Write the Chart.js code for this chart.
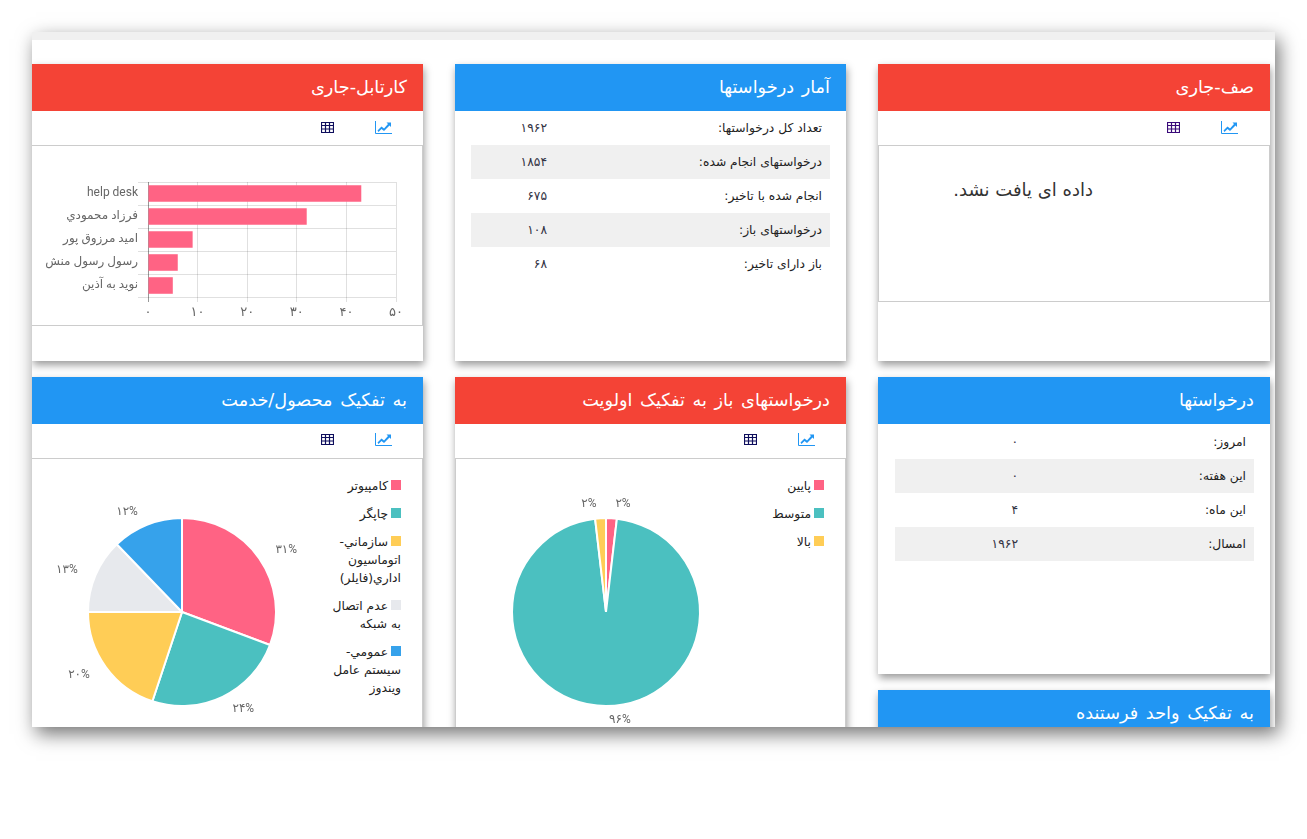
<!DOCTYPE html>
<html lang="fa">
<head>
<meta charset="utf-8">
<title>داشبورد</title>
<script src="https://cdn.jsdelivr.net/npm/chart.js@4"></script>
<style>
  html, body { margin: 0; padding: 0; background: #fff; width: 1307px; height: 839px; overflow: hidden; }
  body { font-family: 'DejaVu Sans', sans-serif; color: #333; }
  #board {
    position: absolute; left: 32px; top: 32px; width: 1243px; height: 695px;
    background: #fff; overflow: hidden; box-shadow: 4px 7px 18px rgba(0,0,0,.55);
  }
  #strip { position: absolute; left: 0; top: 0; width: 100%; height: 8px; background: #f0f0f0; }
  .card {
    position: absolute; width: 391px; background: #fff;
    box-shadow: 1px 4px 8px rgba(0,0,0,.4);
  }
  .head {
    height: 47px; line-height: 47px; color: #fff; direction: rtl;
    font-size: 17.7px; word-spacing: 2px; padding-right: 16px; white-space: nowrap;
  }
  .red { background: #f44336; }
  .blue { background: #2196f3; }
  .icons { position: relative; height: 34px; }
  .icons svg { position: absolute; }
  .box {
    position: absolute; left: 0; right: 0; box-sizing: border-box;
    border: 1px solid #ccc; background: #fff;
  }
  .noleft { border-left: 0; }
  .row { position: absolute; height: 34px; line-height: 35px; font-size: 12.3px; }
  .row.alt { background: #f0f0f0; }
  .row .lbl { position: absolute; right: 8px; direction: rtl; white-space: nowrap; color: #222; }
  .row .val { position: absolute; white-space: nowrap; color: #334; }
  canvas { position: absolute; }
  .legend { position: absolute; direction: rtl; font-size: 12.3px; line-height: 18px; color: #222; margin: 0; padding: 0; list-style: none; text-align: right; }
  .legend li { margin-bottom: 10px; }
  .legend i { display: inline-block; width: 10px; height: 10px; margin-left: 3px; }
  #nodata { position: absolute; left: 60px; top: 33px; width: 154px; text-align: right; direction: rtl; font-size: 18px; color: #333; white-space: nowrap; }
</style>
</head>
<body>
<div id="board"><div id="strip"></div></div>
<script>
  // ── Data ────────────────────────────────────────────────
  var barLabels  = ['help desk', 'فرزاد محمودي', 'امید مرزوق پور', 'رسول رسول منش', 'نوید به آذین'];
  var barValues  = [43, 32, 9, 6, 5];
  var barTicks   = ['۰', '۱۰', '۲۰', '۳۰', '۴۰', '۵۰'];

  var serviceLabels = ['کامپیوتر', 'چاپگر', 'سازماني-اتوماسیون اداري(فایلر)', 'عدم اتصال به شبکه', 'عمومي-سیستم عامل ویندوز'];
  var serviceValues = [30.7, 24.4, 19.9, 12.8, 12.2];
  var servicePct    = ['۳۱%', '۲۴%', '۲۰%', '۱۳%', '۱۲%'];
  var serviceColors = ['#ff6384', '#4bc0c0', '#ffcd56', '#e7e9ed', '#36a2eb'];

  var priorityLabels = ['پایین', 'متوسط', 'بالا'];
  var priorityValues = [2, 104, 2];
  var priorityPct    = ['۲%', '۹۶%', '۲%'];
  var priorityColors = ['#ff6384', '#4bc0c0', '#ffcd56'];

  var statLabels   = ['تعداد کل درخواستها:', 'درخواستهای انجام شده:', 'انجام شده با تاخیر:', 'درخواستهای باز:', 'باز دارای تاخیر:'];
  var statValues   = ['۱۹۶۲', '۱۸۵۴', '۶۷۵', '۱۰۸', '۶۸'];
  var periodLabels = ['امروز:', 'این هفته:', 'این ماه:', 'امسال:'];
  var periodValues = ['۰', '۰', '۴', '۱۹۶۲'];

  var FONT = "Roboto, 'DejaVu Sans', sans-serif";
  var board = document.getElementById('board');

  function iconLine(x, y) {
    return '<svg style="left:' + x + 'px;top:' + y + 'px" width="17" height="13" viewBox="0 0 17 13">' +
      '<path d="M0.5 0V12.5H17" fill="none" stroke="#2196f3"/>' +
      '<path d="M2.5 9.5L6.5 5.5L9 7.5L13 3L11.5 1.5H16V6L14.5 4.5L9 10L6.5 8L3.5 11Z" fill="#2196f3"/></svg>';
  }
  function iconTable(x, y, col) {
    return '<svg style="left:' + x + 'px;top:' + y + 'px" width="13" height="11" viewBox="0 0 13 11">' +
      '<path d="M0.5 0.5H12.5V10.5H0.5ZM0.5 3.5H12.5M0.5 7H12.5M4.5 0.5V10.5M8.5 0.5V10.5" fill="none" stroke-width="1.2" stroke="' + col + '"/></svg>';
  }

  // x and y are page coordinates
  function addCard(x, y, w, h, color, title, iconTop, iconCol) {
    var c = document.createElement('div');
    c.className = 'card';
    c.style.left = (x - 32) + 'px';
    c.style.top = (y - 32) + 'px';
    c.style.width = w + 'px';
    c.style.height = h + 'px';
    var html = '<div class="head ' + color + '">' + title + '</div>';
    if (iconTop) {
      html += '<div class="icons">' + iconTable(289, iconTop, iconCol || '#0d0d5c') + iconLine(343, iconTop - 1) + '</div>';
    }
    c.innerHTML = html;
    board.appendChild(c);
    return c;
  }

  function addBox(card, top, height, noleft) {
    var b = document.createElement('div');
    b.className = 'box' + (noleft ? ' noleft' : '');
    b.style.top = top + 'px';
    b.style.height = height + 'px';
    card.appendChild(b);
    return b;
  }

  function addRows(card, labels, values, left, top, valRight) {
    labels.forEach(function (lab, i) {
      var r = document.createElement('div');
      r.className = 'row' + (i % 2 ? ' alt' : '');
      r.style.left = left + 'px';
      r.style.width = '359px';
      r.style.top = (top + i * 34) + 'px';
      r.innerHTML = '<span class="lbl">' + lab + '</span><span class="val" style="right:' + valRight + 'px">' + values[i] + '</span>';
      card.appendChild(r);
    });
  }

  function addLegend(card, labels, colors, right, width) {
    var ul = document.createElement('ul');
    ul.className = 'legend';
    ul.style.top = '100px';
    ul.style.right = right + 'px';
    ul.style.width = width + 'px';
    labels.forEach(function (lab, i) {
      var li = document.createElement('li');
      li.innerHTML = '<i style="background:' + colors[i] + '"></i>' + lab;
      ul.appendChild(li);
    });
    card.appendChild(ul);
  }

  function addCanvas(parent, left, top, w, h) {
    var cv = document.createElement('canvas');
    cv.style.left = left + 'px';
    cv.style.top = top + 'px';
    cv.style.width = w + 'px';
    cv.style.height = h + 'px';
    cv.width = w;
    cv.height = h;
    parent.appendChild(cv);
    return cv;
  }

  // percent text outside each slice, anchored from the arc's own geometry
  var pctPlugin = {
    id: 'pct',
    afterDatasetsDraw: function (chart, args, opts) {
      var ctx = chart.ctx;
      ctx.save();
      ctx.font = "12px " + FONT;
      ctx.fillStyle = '#666';
      ctx.textBaseline = 'middle';
      chart.getDatasetMeta(0).data.forEach(function (arc, i) {
        var mid = (arc.startAngle + arc.endAngle) / 2;
        var cos = Math.cos(mid), sin = Math.sin(mid);
        var right = cos > -1e-6;
        ctx.textAlign = right ? 'left' : 'right';
        ctx.fillText(opts.labels[i], arc.x + cos * (arc.outerRadius + 16) + (right ? 3 : -3), arc.y + sin * (arc.outerRadius + 14));
      });
      ctx.restore();
    }
  };

  function drawPie(cv, values, colors, pct) {
    new Chart(cv, {
      type: 'pie',
      data: { datasets: [{ data: values, backgroundColor: colors, borderColor: '#fff', borderWidth: 2 }] },
      options: {
        responsive: false,
        animation: false,
        layout: { padding: { top: 57, bottom: 57 } },
        plugins: { legend: { display: false }, tooltip: { enabled: false }, pct: { labels: pct } }
      },
      plugins: [pctPlugin]
    });
  }

  // ── Cards ───────────────────────────────────────────────
  var queue = addCard(878, 64, 392, 297, 'red', 'صف-جاری', 11, '#3a0a7a');
  addBox(queue, 81, 157).innerHTML = '<div id="nodata">داده ای یافت نشد.</div>';

  var stats = addCard(455, 64, 391, 297, 'blue', 'آمار درخواستها');
  addRows(stats, statLabels, statValues, 16, 47, 283);

  var inbox = addCard(32, 64, 391, 297, 'red', 'کارتابل-جاری', 11);
  addBox(inbox, 81, 181, true);

  var requests = addCard(878, 377, 392, 297, 'blue', 'درخواستها');
  addRows(requests, periodLabels, periodValues, 17, 48, 236);

  addCard(878, 690, 392, 120, 'blue', 'به تفکیک واحد فرستنده');

  var service = addCard(32, 377, 391, 420, 'blue', 'به تفکیک محصول/خدمت', 10);
  addBox(service, 81, 340, true);
  var priority = addCard(455, 377, 391, 420, 'red', 'درخواستهای باز به تفکیک اولویت', 10);
  addBox(priority, 81, 340);

  addLegend(service, serviceLabels, serviceColors, 22, 70);
  addLegend(priority, priorityLabels, priorityColors, 22, 90);

  // ── Charts ──────────────────────────────────────────────
  Chart.defaults.font.family = FONT;
  Chart.defaults.font.size = 12;
  Chart.defaults.color = '#666';

  new Chart(addCanvas(inbox, 0, 82, 391, 179), {
    type: 'bar',
    data: { labels: barLabels, datasets: [{ data: barValues, backgroundColor: '#ff6384', borderColor: '#ff6384', borderWidth: 0 }] },
    options: {
      indexAxis: 'y',
      responsive: false,
      animation: false,
      layout: { padding: { top: 36, right: 27 } },
      plugins: { legend: { display: false }, tooltip: { enabled: false } },
      scales: {
        x: {
          min: 0, max: 50,
          ticks: { stepSize: 10, maxRotation: 0, font: { size: 13 }, callback: function (v, i) { return barTicks[i]; } },
          grid: { color: function (c) { return c.index === 0 ? 'rgba(0,0,0,.4)' : 'rgba(0,0,0,.12)'; }, tickLength: 5 },
          border: { display: false },
          afterFit: function (s) { s.height = 28; }
        },
        y: {
          ticks: { padding: 0, labelOffset: -1 },
          grid: { color: 'rgba(0,0,0,.12)', tickLength: 10 },
          border: { display: false },
          afterFit: function (s) { s.width = 116; }
        }
      }
    }
  });

  drawPie(addCanvas(service, 0, 83, 300, 304), serviceValues, serviceColors, servicePct);
  drawPie(addCanvas(priority, 1, 83, 300, 304), priorityValues, priorityColors, priorityPct);
</script>
</body>
</html>
